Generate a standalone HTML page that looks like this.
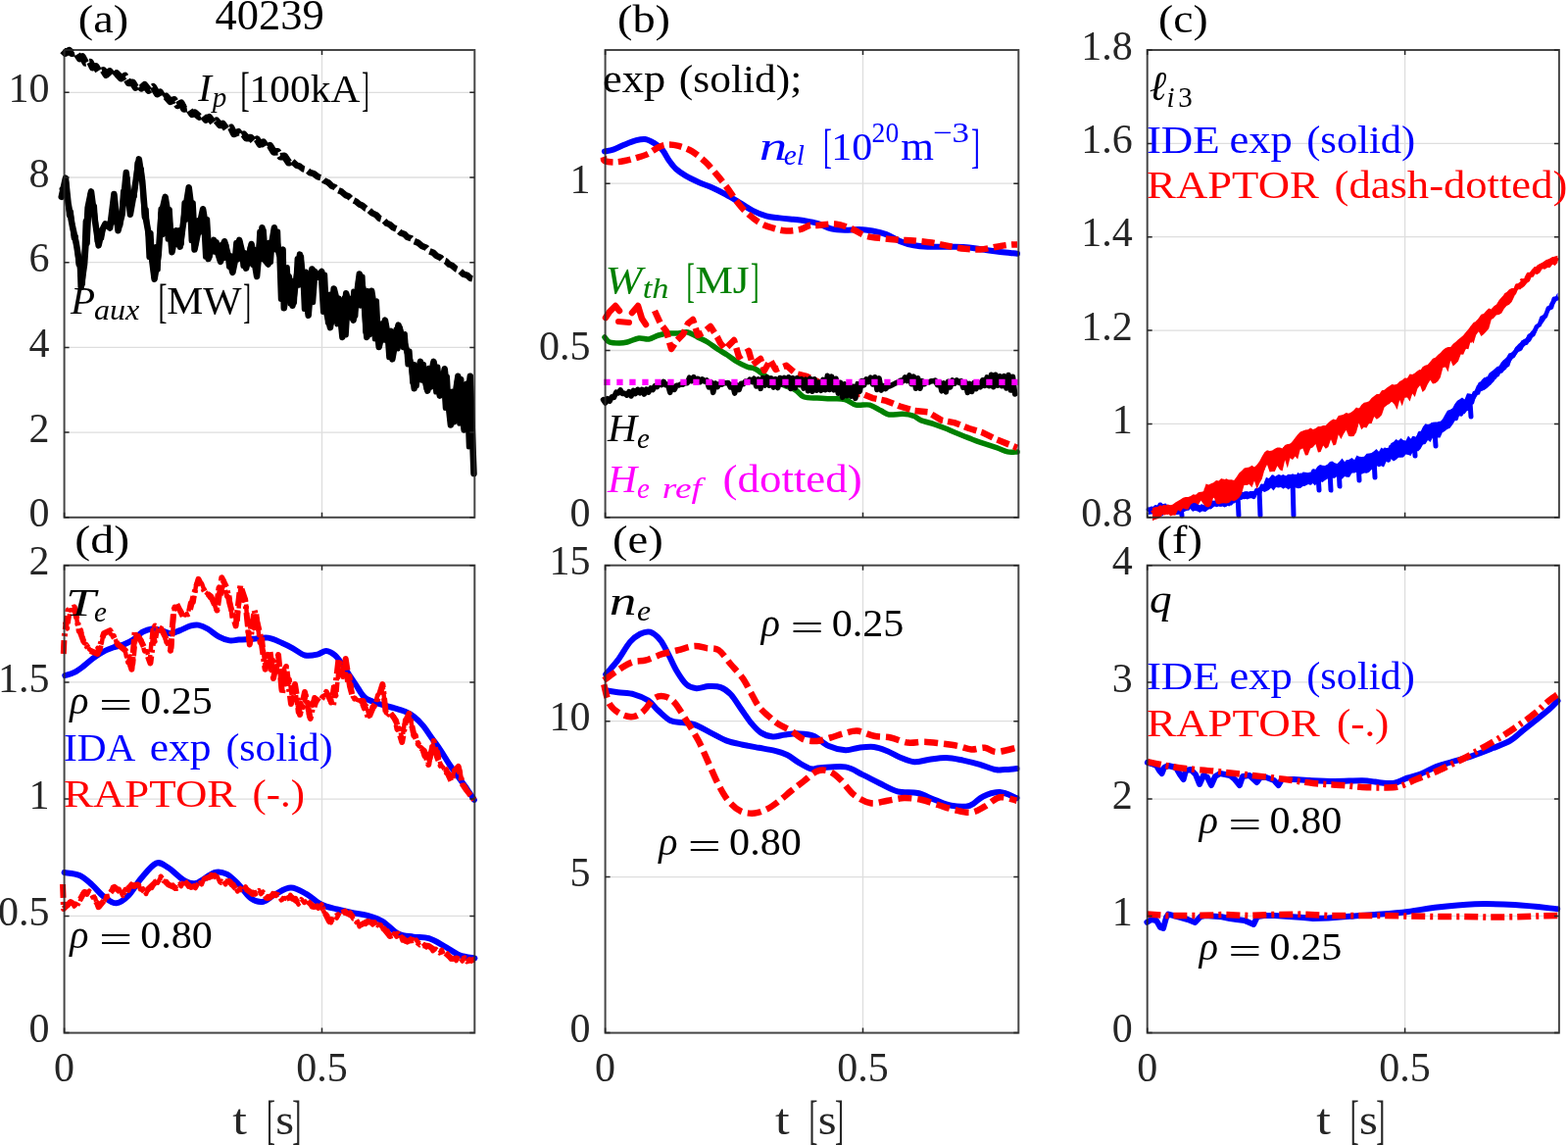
<!DOCTYPE html>
<html><head><meta charset="utf-8"><title>Figure</title>
<style>
html,body{margin:0;padding:0;background:#fff;}
body{width:1600px;height:1168px;overflow:hidden;}
svg{display:block;}
text{font-family:"Liberation Serif","DejaVu Serif",serif;}
.tk{font-size:42px;fill:#262626;}
</style></head><body>
<svg width="1600" height="1168" viewBox="0 0 1600 1168">
<rect width="1600" height="1168" fill="#fff"/>
<path d="M65.6 441.1H484.3M65.6 354.4H484.3M65.6 267.7H484.3M65.6 181H484.3M65.6 94.3H484.3M328.5 51V527.8" stroke="#dedede" stroke-width="1.3" fill="none"/>
<path d="M617.6 357.5H1039.3M617.6 187.2H1039.3M880.5 51V527.8" stroke="#dedede" stroke-width="1.3" fill="none"/>
<path d="M1170.7 432.4H1590.9M1170.7 337.1H1590.9M1170.7 241.7H1590.9M1170.7 146.4H1590.9M1433.6 51V527.8" stroke="#dedede" stroke-width="1.3" fill="none"/>
<path d="M65.6 934.4H484.3M65.6 815.1H484.3M65.6 695.9H484.3M328.5 576.7V1053.6" stroke="#dedede" stroke-width="1.3" fill="none"/>
<path d="M617.6 894.6H1039.3M617.6 735.7H1039.3M880.5 576.7V1053.6" stroke="#dedede" stroke-width="1.3" fill="none"/>
<path d="M1170.7 934.4H1590.9M1170.7 815.1H1590.9M1170.7 695.9H1590.9M1433.6 576.7V1053.6" stroke="#dedede" stroke-width="1.3" fill="none"/>
<path d="M64 51.5 66.7 54.2 70.6 51.6 73.3 54.3 77.3 53.4 81.3 59.5 84 57.9 87.4 64.1 92 63.4 94.5 68.7 97.8 67.8 100.9 72.9 105.4 71.8 108.3 76.2 111.9 73 116.1 78.1 119 75 123.5 79.7 127.5 77.5 131.3 84.6 135.4 84.3 138.3 89 141.2 86.7 144.3 89.8 147.6 86.7 151.8 92.1 156.3 88.7 160.4 95.6 163.3 94.2 166.9 100.2 169.5 98.4 173.9 103.4 177.8 101.8 181.1 107.4 184.9 105.1 187.8 111 191.9 110.3 196 116.3 198.7 115 203.2 119.1 206.1 117.2 210 122 213.5 119.7 217.6 125.2 220.8 123.1 224.6 127.5 227.3 126.4 231.2 131.7 235.7 130.2 238.7 136.4 243.2 134.7 245.7 138.7 248.8 137.1 251.3 140.7 255.6 140.4 259.3 144.4 262.2 142.1 265.2 147 268.7 145.1 272.2 151 275.5 148.6 279.5 155.1 283.4 154.8 286.1 159.8 290.2 159.2 294.7 165.8 298.3 164.7" stroke="#000000" stroke-width="7.5" fill="none" stroke-linejoin="round" stroke-linecap="butt" stroke-dasharray="15 4"/>
<path d="M298.3 164.7 302.6 168.7 305.9 169.7 309.2 172.3 312.5 173 316.1 176 320.2 177.1 324.4 180.4 328.1 181.3 331.1 184.4 335.3 186.4 338.6 189.8 341.8 191 344.7 193.9 348.6 195.6 352.7 199.1 355.7 200.2 359.1 203.6 363.5 205.6 366.4 208.2 369.8 209.8 373.3 212.8 375.7 213.6 379.8 217.4 384.1 219.4 387.4 222.9 390.4 223.7 394.6 227.8 397.7 229 401.4 232.3 404.6 233.5 409 237.7 412.6 238.8 415.7 242 419.5 243.2 422.5 246 426.6 247.6 430.6 250.9 435 252.8 438.2 256.3 442.3 257.9 445.3 260.8 449.8 263 452.3 265.6 454.9 266.4 458.5 269.8 461.2 270.8 465.4 274.4 468.8 275.7 472.7 279.6 476.9 280.9 480.1 283.9 482.7 284.5" stroke="#000000" stroke-width="6.5" fill="none" stroke-linejoin="round" stroke-linecap="butt" stroke-dasharray="15 4"/>
<path d="M62.7 200.9 66.9 181.6 69.6 207.7 73.7 229.7 77.9 249 82 273.7 82.7 293 86.1 269.6 88.2 239.4 89.6 211.9 93 195.4 96.4 221.5 100.6 250.4 104 235.2 107.4 228.4 112.2 232.5 116.4 198.1 120.5 235.2 124.6 218.7 128.8 176.1 132.9 218.7 137 195.4 141.8 162.4 145.2 184.4 148 218.7 152.1 240.7 156.2 273.7 157.6 284.7 161.7 260 164.5 218.7 168.6 200.9 172.7 225.6 175.5 257.2 179.6 235.2 183.7 251.7 187.9 221.5 192.7 191.2 197.5 229.7 198.5 254.5 203 232.5 207.1 213.2 211.2 238 212.6 264.1 218.1 244.9 225 266.9 229.1 246.2 237.4 277.9 244.2 244.9 251.1 273.7 256.6 249 262.1 282 265 250 267.5 232.3 270 265 273.7 269.5 279.9 232.3 284.9 259.6 288.6 254.6 289.8 314.2 294.8 282 298.5 311.7 306 259.6 310.9 294.4 314.7 321.7 318.4 274.5 324.6 282 328.3 277 332 314.2 337 334.1 340.7 294.4 347 319.2 349.4 344 353.2 299.3 360.6 326.6 366.8 279.5 370.5 294.4 374.3 344 379.2 296.8 384.2 329.1 386.7 354 392.9 326.6 400.3 366.4 406.5 331.6 414 354 420.2 373.8 422.7 396.2 428.9 368.9 436.3 398.7 442.5 368.9 448.8 403.6 453.7 376.3 459.9 433.4 467.4 383.8 473.6 438.4 479.8 383.8 483.5 483.1" stroke="#000000" stroke-width="6.5" fill="none" stroke-linejoin="round" stroke-linecap="round"/>
<path d="M63 192.7 65.4 194.9 67.8 185.2 70.2 219.8 72.6 215.7 75 242.8 77.4 241 79.8 269.7 82.2 264.9 84.6 289.9 87 225.5 89.4 248.7 91.8 197.9 94.2 215.8 96.6 210 99 246.5 101.4 240.6 103.8 243.2 106.2 230 108.6 229.8 111 227.5 113.4 228.7 115.8 201.7 118.2 227.5 120.6 219.5 123 230 125.4 195 127.8 201.7 130.2 181.4 132.6 214.7 135 198.5 137.4 200.6 139.8 166 142.2 176.3 144.6 172.3 147 221.7 149.4 213.6 151.8 262.6 154.2 237.3 156.6 282.3 159 251.4 161.4 275.3 163.8 213 166.2 239.8 168.6 203.8 171 244.3 173.4 213.5 175.8 252.1 178.2 237.9 180.6 249.9 183 234.3 185.4 249 187.8 206.6 190.2 224.4 192.6 193.7 195 245.8 197.4 206.7 199.8 250.6 202.2 224.4 204.6 237.2 207 216.9 209.4 262.3 211.8 223.5 214.2 262.4 216.6 247.3 219 257.4 221.4 246.7 223.8 264.8 226.2 248.8 228.6 263.8 231 249.4 233.4 272.6 235.8 260.5 238.2 274.6 240.6 247.4 243 265 245.4 247.2 247.8 271.6 250.2 257.5 252.6 270.1 255 252.4 257.4 270.5 259.8 254.1 262.2 280.3 264.6 236.2 267 264.9 269.4 234.7 271.8 266 274.2 247.1 276.6 267.7 279 235.4 281.4 255.3 283.8 235.9 286.2 305.5 288.6 260.6 291 306.2 293.4 272.5 295.8 310.1 298.2 286.1 300.6 309 303 263.7 305.4 291.4 307.8 261.6 310.2 315.6 312.6 277 315 314.9 317.4 276.2 319.8 308.8 322.2 276.7 324.6 283.5 327 279.5 329.4 318.6 331.8 280 334.2 329.5 336.6 300 339 329.5 341.4 296.1 343.8 331.1 346.2 303.9 348.6 339.7 351 303.7 353.4 342 355.8 303.7 358.2 324.6 360.6 296.8 363 322.6 365.4 285.6 367.8 312.3 370.2 281.9 372.6 339 375 296.1 377.4 341.8 379.8 299.4 382.2 346.2 384.6 306.6 387 352.5 389.4 329.6 391.8 347.3 394.2 331 396.6 364.8 399 336.8 401.4 362.2 403.8 335.8 406.2 356.2 408.6 334.1 411 354.8 413.4 340.3 415.8 372 418.2 357.8 420.6 390.7 423 371.4 425.4 393.9 427.8 372.6 430.2 388.4 432.6 371.3 435 397 437.4 375.1 439.8 395.4 442.2 371.3 444.6 400.2 447 373.9 449.4 399.9 451.8 380.2 454.2 416.5 456.6 384 459 428.3 461.4 398.8 463.8 431 466.2 388.2 468.6 432.3 471 386.5 473.4 433.4 475.8 390.8 478.2 456.1 480.6 391.6 483 476" stroke="#000000" stroke-width="4.8" fill="none" stroke-linejoin="round" stroke-linecap="round"/>
<path d="M616.9 154.4C618.5 154.1 623.1 153.5 626.5 152.3C629.9 151.2 633.8 149 637.5 147.5C641.2 146 645.1 144.3 648.5 143.4C651.9 142.5 654.9 141.6 658.1 142C661.3 142.4 664.7 144.3 667.7 146.1C670.7 147.9 673.5 150 676 153C678.5 156 680.6 160.8 682.9 164C685.2 167.2 687 169.7 689.7 172.2C692.5 174.7 695.5 176.8 699.4 179.1C703.3 181.4 708.5 183.9 713.1 186C717.7 188.1 722.3 189.4 726.9 191.5C731.5 193.6 736 195.9 740.6 198.4C745.2 200.9 749.8 203.8 754.4 206.6C759 209.3 763.5 212.6 768.1 214.9C772.7 217.2 777.3 219.2 781.9 220.4C786.5 221.7 791 221.8 795.6 222.4C800.2 223 805.3 223.4 809.4 223.8C813.5 224.2 815.9 224.3 820 225C824.1 225.7 829.3 226.4 834 227.8C838.7 229.2 843.4 232.2 848.1 233.4C852.8 234.6 857.5 234.7 862.2 234.8C866.9 234.9 871.5 234 876.2 234.1C880.9 234.2 885.6 234.7 890.3 235.5C895 236.3 899.7 237.3 904.4 239.1C909.1 240.9 913.7 244.2 918.4 246.1C923.1 248 927.8 249.4 932.5 250.3C937.2 251.2 941.9 251.5 946.6 251.7C951.3 251.9 955.9 251.7 960.6 251.7C965.3 251.7 970 251.6 974.7 251.7C979.4 251.8 984.1 251.9 988.8 252.4C993.5 252.9 998.1 253.8 1002.8 254.5C1007.5 255.2 1012.2 256 1016.9 256.6C1021.6 257.2 1027.4 257.6 1030.9 258C1034.4 258.4 1036.8 258.7 1038 258.8" stroke="#0000ff" stroke-width="6" fill="none" stroke-linejoin="round" stroke-linecap="round"/>
<path d="M616 160C616.2 160.7 615.2 163.1 617 164C618.8 164.9 623.1 165.4 626.5 165.4C629.9 165.4 633.8 164.7 637.5 164C641.2 163.3 644.6 162.3 648.5 161.2C652.4 160 657 158.9 660.9 157.1C664.8 155.3 668.5 151.8 671.9 150.2C675.3 148.6 678.1 147.7 681.5 147.5C684.9 147.3 688.4 147.8 692.5 148.9C696.6 150.1 701.6 151.7 706.2 154.4C710.8 157.2 715.9 161.5 720 165.4C724.1 169.3 727.3 173.3 731 177.7C734.7 182 738.6 186.9 742 191.5C745.4 196.1 748.4 201.1 751.6 205.2C754.8 209.3 757.3 212.5 761.2 216.2C765.1 219.9 770.4 224.4 775 227.2C779.6 229.9 784.1 231.3 788.7 232.7C793.3 234.1 797.9 235.3 802.5 235.5C807.1 235.7 812.3 235 816.2 234.1C820.1 233.2 823 230.7 826 230C829 229.3 829.6 230.2 834 230C838.4 229.8 846.4 227.9 852.3 228.5C858.2 229.1 864 231.4 869.2 233.4C874.4 235.4 877.9 238.8 883.3 240.5C888.7 242.2 895.8 242.6 901.6 243.3C907.5 244 913.2 244.3 918.4 244.7C923.5 245 927.1 244.9 932.5 245.4C937.9 245.9 944.9 246.6 950.8 247.5C956.7 248.4 962.1 249.9 967.7 251C973.3 252.1 979.1 253.2 984.5 253.8C989.9 254.4 994.6 254.8 1000 254.5C1005.4 254.2 1011.8 252.5 1016.9 251.7C1022 250.9 1027.4 249.9 1030.9 249.6C1034.4 249.2 1036.8 249.6 1038 249.6" stroke="#ff0000" stroke-width="6.5" fill="none" stroke-linejoin="round" stroke-linecap="butt" stroke-dasharray="13 5.5"/>
<path d="M617 344C617.8 344.8 619.5 348 622 349C624.5 350 629 350 632 350C635 350 636.7 349.8 640 349C643.3 348.2 648.3 345.5 652 345C655.7 344.5 658.7 346.5 662 346C665.3 345.5 668.7 343 672 342C675.3 341 678.7 340.3 682 340C685.3 339.7 688.7 340.2 692 340C695.3 339.8 698.7 338.3 702 339C705.3 339.7 708.7 342.3 712 344C715.3 345.7 718.7 347 722 349C725.3 351 728.7 353.8 732 356C735.3 358.2 738.7 359.8 742 362C745.3 364.2 748.7 367 752 369C755.3 371 759 372.8 762 374C765 375.2 767.2 374.7 770 376C772.8 377.3 776.3 380.2 779 382C781.7 383.8 782.5 384.8 786 386.6C789.5 388.4 795.7 391.1 800 393C804.3 394.9 808.7 396.1 812 398C815.3 399.9 816.3 403.3 820 404.7C823.7 406.1 829.3 405.8 834 406.1C838.7 406.5 843.4 406.6 848.1 406.8C852.8 407 858 406.4 862.2 407.5C866.4 408.6 869.2 412.2 873.4 413.1C877.6 414 883.3 412.2 887.5 413.1C891.7 414.1 895.5 417.2 898.8 418.8C902.1 420.4 903.5 422.4 907.2 423C911 423.6 917.1 422.1 921.3 422.3C925.5 422.5 929.5 423.3 932.5 424.4C935.5 425.4 936 427.2 939.5 428.6C943 430 949.4 431.4 953.6 432.8C957.8 434.2 961.3 435.6 964.8 437C968.3 438.4 970.7 439.7 974.7 441.3C978.7 442.9 984.6 445.3 988.8 446.9C993 448.5 995.3 449.5 1000 451.1C1004.7 452.7 1012.2 455.1 1016.9 456.7C1021.6 458.3 1024.6 460.2 1028.1 460.9C1031.6 461.6 1036.3 460.9 1038 460.9" stroke="#008000" stroke-width="5.5" fill="none" stroke-linejoin="round" stroke-linecap="round"/>
<path d="M618 324 622 318 628 312 632 317" stroke="#ff0000" stroke-width="6.5" fill="none" stroke-linejoin="round" stroke-linecap="round"/>
<path d="M631 328 642 329" stroke="#ff0000" stroke-width="6" fill="none" stroke-linejoin="round" stroke-linecap="round"/>
<path d="M645 319 651 312 655 325 659 331" stroke="#ff0000" stroke-width="6.5" fill="none" stroke-linejoin="round" stroke-linecap="round"/>
<path d="M668 317 674 330 680 338 685 356 691 347 697 341 702 330 707 326 712 342 718 339 725 333 732 344 735 350 740 356 749 347 754 364 764 358 768 372 776 366 780 378 786 367.4 791.5 377 802.5 372.9 812.1 381.1 823.1 383.9 840 392 856 398 873.4 401.9 880.5 401.9 890.3 406.1 904.4 408.9 918.4 414.5 932.5 418.8 946.6 420.2 960.6 428.6 974.7 431.4 988.8 437 1002.8 441.3 1016.9 448.3 1030.9 453.9 1038 456.7" stroke="#ff0000" stroke-width="6.5" fill="none" stroke-linejoin="round" stroke-linecap="butt" stroke-dasharray="13 5"/>
<path d="M615.5 407.7 617.7 411 619.9 406.6 622.1 409.1 624.3 404.9 626.5 405.4 628.7 400.2 630.9 401 633.1 397.8 635.3 401.6 637.5 401.2 639.7 403.2 641.9 399.7 644.1 404 646.3 398.4 648.5 401.6 650.7 397.3 652.9 400.8 655.1 397.4 657.3 402.1 659.5 397 661.7 400.2 663.9 395.9 666.1 397.6 668.3 393.6 670.5 394.6 672.7 390.7 674.9 392.6 677.1 389.3 679.3 392.7 681.5 392 683.7 400.4 685.9 393.9 688.1 397.4 690.3 393.2 692.5 393.1 694.7 392 696.9 392.2 699.1 390.4 701.3 390.8 703.5 385.2 705.7 388.7 707.9 384.7 710.1 390 712.3 386.3 714.5 389.6 716.7 386.8 718.9 389 721.1 387.8 723.3 394.9 725.5 389.8 727.7 400.4 729.9 391 732.1 394.7 734.3 391.5 736.5 392.2 738.7 390.7 740.9 390.7 743.1 390.5 745.3 395 747.5 392.3 749.7 401.1 751.9 392.8 754.1 397.6 756.3 391.2 758.5 391.8 760.7 389 762.9 390.2 765.1 387.1 767.3 389.5 769.5 386.2 771.7 394 773.9 386.8 776.1 396.4 778.3 385.5 780.5 393.1 782.7 384.8 784.9 393.3 787.1 385.8 789.3 395.1 791.5 386.6 793.7 395.6 795.9 385.5 798.1 392.1 800.3 385.4 802.5 393.2 804.7 384.7 806.9 396.5 809.1 385.6 811.3 395.8 813.5 385.6 815.7 392.8 817.9 386.6 820.1 396.1 822.3 387.1 824.5 398.8 826.7 386.1 828.9 399.3 831.1 386.8 833.3 398.3 835.5 390 837.7 398.4 839.9 387.4 842.1 397.8 844.3 383.3 846.5 397.6 848.7 384.1 850.9 397.9 853.1 386.3 855.3 401.3 857.5 390.2 859.7 405.4 861.9 391.8 864.1 403.8 866.3 391.8 868.5 404.3 870.7 394.2 872.9 406.4 875.1 391.6 877.3 399.3 879.5 388.5 881.7 392.9 883.9 386.8 886.1 389.5 888.3 385.2 890.5 391.9 892.7 384.7 894.9 397.5 897.1 385.9 899.3 398.1 901.5 393.5 903.7 396.6 905.9 394.4 908.1 393.8 910.3 392.7 912.5 391.6 914.7 390.5 916.9 389.5 919.1 388.1 921.3 388.9 923.5 384.9 925.7 388.5 927.9 382.9 930.1 391.8 932.3 384.1 934.5 396.3 936.7 385.8 938.9 396.3 941.1 388.6 943.3 391.7 945.5 390.1 947.7 390.1 949.9 388.8 952.1 388.8 954.3 388 956.5 392.7 958.7 389.8 960.9 398.9 963.1 390.8 965.3 399.9 967.5 389.2 969.7 395 971.9 387.8 974.1 391.1 976.3 387.8 978.5 390.3 980.7 388.6 982.9 395.3 985.1 389.9 987.3 400.5 989.5 391.4 991.7 399.5 993.9 390.6 996.1 396.6 998.3 390.3 1000.5 394.8 1002.7 387.7 1004.9 393.5 1007.1 384.9 1009.3 393.8 1011.5 382.2 1013.7 394.7 1015.9 382.2 1018.1 393.2 1020.3 383.8 1022.5 393.8 1024.7 383.6 1026.9 396 1029.1 382.5 1031.3 398.1 1033.5 384.3 1035.7 402.1" stroke="#000000" stroke-width="5.5" fill="none" stroke-linejoin="round" stroke-linecap="round"/>
<path d="M616.3 389.8 1039 389.8" stroke="#ff00ff" stroke-width="6.3" fill="none" stroke-linejoin="round" stroke-linecap="butt" stroke-dasharray="6.3 6.7"/>
<path d="M1172 518 1174.5 516.5 1177 516.8 1179.5 516.2 1182 514.3 1184.5 514 1187 514 1189.5 513.6 1192 515.9 1194.5 516.3 1197 515.6 1199.5 516.2 1202 516.6 1204.5 517 1207 515.6 1209.5 514.5 1212 513.9 1214.5 513.1 1217 512.3 1219.5 512.6 1222 514 1224.5 515.5 1227 515.4 1229.5 515.3 1232 514 1234.5 512.2 1237 511.9 1239.5 510.6 1242 510.1 1244.5 510.4 1247 508.6 1249.5 509.1 1252 510.4 1254.5 508.2 1257 507 1259.5 505.9 1262 503.4 1264.5 503.2 1267 501.7 1269.5 502.1 1272 501.1 1274.5 501.8 1277 500.9 1279.5 500.9 1282 498.9 1284.5 497.2 1287 495.3 1289.5 493.4 1292 486.8 1294.5 488.1 1297 486.1 1299.5 486.7 1302 485.4 1304.5 484.1 1307 484.9 1309.5 483.9 1312 485.6 1314.5 483.8 1317 483.9 1319.5 483.2 1322 485.5 1324.5 481.8 1327 484.2 1329.5 481.5 1332 481.7 1334.5 482.3 1337 481.6 1339.5 481.4 1342 479.2 1344.5 475.8 1347 474.1 1349.5 474.8 1352 474.9 1354.5 473.7 1357 470.9 1359.5 470.4 1362 472.3 1364.5 472.9 1367 470.6 1369.5 467.4 1372 471.1 1374.5 470.1 1377 468.6 1379.5 467 1382 469.2 1384.5 464.4 1387 465.8 1389.5 465.9 1392 465.8 1394.5 462.7 1397 462.5 1399.5 462 1402 460.2 1404.5 457.9 1407 460.8 1409.5 456.5 1412 458.2 1414.5 456.9 1417 456.7 1419.5 452 1422 450.7 1424.5 447.9 1427 449.4 1429.5 446.9 1432 449.1 1434.5 449.4 1437 444.5 1439.5 447.6 1442 445.9 1444.5 445.8 1447 442.1 1449.5 440.4 1452 435.2 1454.5 432.3 1457 433.1 1459.5 432.2 1462 430.8 1464.5 430.6 1467 430.5 1469.5 430.2 1472 427.6 1474.5 422.9 1477 418.7 1479.5 417.9 1482 416.7 1484.5 412.1 1487 408.7 1489.5 407.2 1492 405.4 1494.5 407.4 1497 401.2 1499.5 401.5 1502 402.1 1504.5 399.1 1507 393 1509.5 391.2 1512 387.6 1514.5 384.9 1517 385.4 1519.5 380.7 1522 378.9 1524.5 376.8 1527 374.7 1529.5 373.6 1532 369.6 1534.5 366.9 1537 364.7 1539.5 360.6 1542 359.7 1544.5 357.4 1547 353.6 1549.5 350.7 1552 348.8 1554.5 346.3 1557 345.1 1559.5 341.8 1562 338.5 1564.5 335.8 1567 331.8 1569.5 329.2 1572 325.3 1574.5 321.2 1577 317.7 1579.5 313.6 1582 308.3 1584.5 306.4 1587 302.7 1589.5 298.5 1589.5 304.9 1587 309.2 1584.5 312.4 1582 316.2 1579.5 320.3 1577 325.7 1574.5 329.6 1572 331.9 1569.5 335.3 1567 340.3 1564.5 343.2 1562 348 1559.5 350.1 1557 351.9 1554.5 354.2 1552 357.9 1549.5 359.1 1547 362.2 1544.5 365.1 1542 368.2 1539.5 372.3 1537 376.4 1534.5 378.6 1532 379.4 1529.5 384 1527 385.1 1524.5 388.9 1522 391.4 1519.5 393.9 1517 396.3 1514.5 397.8 1512 398.9 1509.5 399.8 1507 404.2 1504.5 408.3 1502 412.3 1499.5 419 1497 419.1 1494.5 422.3 1492 422.5 1489.5 424.3 1487 425.6 1484.5 429.6 1482 433.6 1479.5 436.7 1477 437.7 1474.5 439.4 1472 441.1 1469.5 446.6 1467 446.4 1464.5 446.9 1462 446.5 1459.5 451.1 1457 448.9 1454.5 453.1 1452 453.6 1449.5 457.9 1447 460.5 1444.5 459.3 1442 460.2 1439.5 464.9 1437 463.9 1434.5 463.6 1432 466.4 1429.5 466.7 1427 466.7 1424.5 469 1422 470.6 1419.5 468.2 1417 469.2 1414.5 470.9 1412 476.5 1409.5 475.3 1407 476.2 1404.5 475 1402 479.5 1399.5 479.1 1397 481.8 1394.5 482.7 1392 482.6 1389.5 483.7 1387 482.1 1384.5 481.5 1382 482.5 1379.5 482.4 1377 486.8 1374.5 486.8 1372 486 1369.5 488.8 1367 486.7 1364.5 485.8 1362 487.8 1359.5 487.7 1357 487.8 1354.5 488.6 1352 490.1 1349.5 492.1 1347 490.9 1344.5 490.9 1342 495.4 1339.5 493 1337 493.7 1334.5 494.3 1332 495.4 1329.5 495.9 1327 497.9 1324.5 498.3 1322 497.6 1319.5 497 1317 497.8 1314.5 499.6 1312 496.9 1309.5 498.7 1307 497 1304.5 497.5 1302 497 1299.5 500.6 1297 497.8 1294.5 499.9 1292 501.2 1289.5 499.8 1287 501 1284.5 503.9 1282 505.1 1279.5 508 1277 508.3 1274.5 508.4 1272 508.7 1269.5 509.3 1267 508.9 1264.5 510.3 1262 511.8 1259.5 513.5 1257 513.6 1254.5 516.5 1252 515.8 1249.5 517.4 1247 516.3 1244.5 516.8 1242 516.2 1239.5 516.5 1237 518.2 1234.5 519.1 1232 520.4 1229.5 521.7 1227 521.6 1224.5 522.1 1222 521.6 1219.5 520.9 1217 520.6 1214.5 518.9 1212 520.5 1209.5 521.5 1207 523.1 1204.5 524.2 1202 525.1 1199.5 524.3 1197 523.8 1194.5 523.3 1192 521.4 1189.5 521.4 1187 520.4 1184.5 520.5 1182 521 1179.5 521.9 1177 522.6 1174.5 524.5 1172 524.9Z" fill="#0000ff" stroke="none"/>
<path d="M1172 519.7 1175.4 522.2 1179.2 517.5 1181.7 520.6 1185 515.9 1188.3 519.1 1191.8 517.1 1194.3 521.5 1197.1 518.2 1200.6 522.7 1203 518.6 1206.3 520.7 1209.6 516.8 1212.3 518.3 1214.7 513.4 1217.6 519.3 1220.5 515.2 1224.1 520.3 1226.4 516.6 1229.7 519.5 1231.9 514.6 1235 517 1237.9 512.8 1241.4 514.9 1243.7 510.6 1246 514.5 1248.1 510.7 1250.4 514.9 1252.7 511.1 1256 513.3 1258.9 507.7 1261.8 509.8 1264.1 504.5 1266.6 507.5 1270.4 503.7 1272.8 507 1275.9 503.5 1279.3 506.9 1282.1 500.3 1285.3 502.1 1287.8 495.8 1290.3 499.6 1293.2 490.6 1296 495 1298.7 486.6 1301.8 494 1305.6 486.7 1308.2 492.5 1310.5 487.6 1313 495.6 1315.6 487.9 1318.8 496 1321.4 486 1324.2 494.4 1327.4 484.9 1330.8 493.3 1334.4 484.9 1337.2 492.5 1340.3 480.5 1343 491.6 1346.2 480.6 1350 487.6 1352.7 478.7 1355 485.2 1358.3 477.6 1360.9 484.6 1364 475.2 1367.5 482 1370.2 473.4 1372.6 480.7 1374.9 471.2 1377.3 481.5 1379.8 470.5 1383.1 479.1 1386.9 469 1390 476.4 1392.8 469 1395.7 477.9 1399.4 467.4 1402.7 475.4 1405.8 464.9 1409.4 471 1413.3 458.9 1416.9 469.4 1419.1 456.1 1421.8 463.6 1424.6 453.9 1426.7 462.1 1430.2 452.3 1433.2 460.1 1437.1 451.9 1440.4 460 1442.5 447.1 1445 458.1 1448.8 442 1452.4 449.3 1455.3 438.6 1459.1 443.5 1461.5 433.3 1465 443.7 1468.9 432 1472.5 438.4 1476.2 427.1 1479.1 431.9 1482.6 418.9 1485.9 426.8 1488.8 414.7 1490.9 422.5 1493.9 410 1496.9 415 1499.4 406.4 1502 410.6 1504.5 401.1 1508.2 400.6 1510.4 391.7 1513.7 395.6 1517.2 386.7 1519.7 390.9 1522.9 381.1 1525.3 384.7 1528.7 376.1 1531.9 378.4 1535.3 369.4 1538.3 372.3 1541 364 1544.2 363.1 1547.9 355.8 1551.6 355.6 1554 349 1557.3 349.8 1560.5 342.6 1564.4 341.3 1567.9 333.2 1570.9 331.3 1573.3 324.2 1577 322.6 1579.8 314.5 1583 313.5 1585.7 304.8 1588.8 304.6" stroke="#0000ff" stroke-width="4.5" fill="none" stroke-linejoin="round" stroke-linecap="round"/>
<path d="M1184 515 1185 524" stroke="#0000ff" stroke-width="5" fill="none" stroke-linejoin="round" stroke-linecap="round"/>
<path d="M1205 518 1206 526" stroke="#0000ff" stroke-width="5" fill="none" stroke-linejoin="round" stroke-linecap="round"/>
<path d="M1263 505 1264 526" stroke="#0000ff" stroke-width="5" fill="none" stroke-linejoin="round" stroke-linecap="round"/>
<path d="M1285 500 1286 526" stroke="#0000ff" stroke-width="5" fill="none" stroke-linejoin="round" stroke-linecap="round"/>
<path d="M1319 489 1320 526" stroke="#0000ff" stroke-width="5" fill="none" stroke-linejoin="round" stroke-linecap="round"/>
<path d="M1345 484 1346 500" stroke="#0000ff" stroke-width="5" fill="none" stroke-linejoin="round" stroke-linecap="round"/>
<path d="M1357 480 1358 500" stroke="#0000ff" stroke-width="5" fill="none" stroke-linejoin="round" stroke-linecap="round"/>
<path d="M1366 476 1367 496" stroke="#0000ff" stroke-width="5" fill="none" stroke-linejoin="round" stroke-linecap="round"/>
<path d="M1386 472 1387 490" stroke="#0000ff" stroke-width="5" fill="none" stroke-linejoin="round" stroke-linecap="round"/>
<path d="M1402 468 1403 487" stroke="#0000ff" stroke-width="5" fill="none" stroke-linejoin="round" stroke-linecap="round"/>
<path d="M1443 452 1444 465" stroke="#0000ff" stroke-width="5" fill="none" stroke-linejoin="round" stroke-linecap="round"/>
<path d="M1464 440 1465 455" stroke="#0000ff" stroke-width="5" fill="none" stroke-linejoin="round" stroke-linecap="round"/>
<path d="M1500 410 1501 425" stroke="#0000ff" stroke-width="5" fill="none" stroke-linejoin="round" stroke-linecap="round"/>
<path d="M1176 518 1178.6 517.2 1181.2 516.9 1183.8 515.2 1186.4 516.2 1189 516 1191.6 514.6 1194.2 515.4 1196.8 514.4 1199.4 512.6 1202 511.1 1204.6 509.6 1207.2 507.7 1209.8 507.1 1212.4 507 1215 506 1217.6 504.2 1220.2 504.7 1222.8 502.3 1225.4 501.7 1228 501.5 1230.6 493.5 1233.2 494.4 1235.8 493.2 1238.4 492.3 1241 490 1243.6 490.6 1246.2 487.9 1248.8 489.6 1251.4 488.2 1254 489.6 1256.6 489.2 1259.2 490 1261.8 486.4 1264.4 482.6 1267 480.2 1269.6 477.4 1272.2 477.1 1274.8 476.4 1277.4 474.8 1280 476.4 1282.6 474 1285.2 470.4 1287.8 465.4 1290.4 461.3 1293 459.3 1295.6 459.9 1298.2 459.6 1300.8 457.7 1303.4 456.5 1306 456.4 1308.6 457.4 1311.2 454 1313.8 453 1316.4 452.8 1319 450 1321.6 446.6 1324.2 443.2 1326.8 440.5 1329.4 439.4 1332 438.6 1334.6 438.2 1337.2 436.4 1339.8 438.1 1342.4 437 1345 435 1347.6 435.1 1350.2 434.1 1352.8 434.1 1355.4 431.3 1358 428.9 1360.6 427.4 1363.2 428.2 1365.8 424.1 1368.4 423.6 1371 422.8 1373.6 421 1376.2 421.8 1378.8 420.6 1381.4 418.5 1384 415.5 1386.6 417.1 1389.2 412.9 1391.8 410.8 1394.4 410.2 1397 409.2 1399.6 406 1402.2 404 1404.8 402 1407.4 401.9 1410 398.2 1412.6 397.7 1415.2 395.6 1417.8 393.8 1420.4 392.1 1423 392.6 1425.6 391.8 1428.2 388.9 1430.8 387.7 1433.4 385.4 1436 385.8 1438.6 381.5 1441.2 382.1 1443.8 380.4 1446.4 378.2 1449 378.5 1451.6 374.3 1454.2 372.8 1456.8 372 1459.4 369 1462 365.7 1464.6 364.8 1467.2 362.1 1469.8 360 1472.4 356.9 1475 355 1477.6 354 1480.2 354.1 1482.8 350.8 1485.4 348.8 1488 346.3 1490.6 344.3 1493.2 342 1495.8 338.7 1498.4 335.7 1501 332.3 1503.6 328.9 1506.2 327.7 1508.8 324.4 1511.4 320.8 1514 319.9 1516.6 317 1519.2 314.4 1521.8 315.4 1524.4 312.2 1527 310.5 1529.6 306.2 1532.2 303.3 1534.8 300.5 1537.4 298 1540 295.2 1542.6 294 1545.2 293.9 1547.8 290.1 1550.4 288 1553 285.2 1555.6 283.4 1558.2 280.3 1560.8 278.1 1563.4 274.5 1566 273.4 1568.6 270.6 1571.2 269.1 1573.8 267.8 1576.4 265.9 1579 264.7 1581.6 263.6 1584.2 262.3 1586.8 261.6 1589.4 260.8 1589.4 267.9 1586.8 270.9 1584.2 269.8 1581.6 273.1 1579 273.1 1576.4 274.8 1573.8 274.3 1571.2 278.2 1568.6 279.9 1566 279.3 1563.4 280.9 1560.8 287.1 1558.2 288.8 1555.6 291.9 1553 293.9 1550.4 294.5 1547.8 296.5 1545.2 302.5 1542.6 308 1540 310.8 1537.4 312.1 1534.8 315.1 1532.2 319.5 1529.6 321.1 1527 321.2 1524.4 324.3 1521.8 326.1 1519.2 335.2 1516.6 338.2 1514 340.9 1511.4 343.1 1508.8 337.9 1506.2 341.7 1503.6 350.5 1501 346.7 1498.4 356.3 1495.8 355.8 1493.2 361.8 1490.6 361.5 1488 368.6 1485.4 371.2 1482.8 373.5 1480.2 367.7 1477.6 379.6 1475 374.5 1472.4 374.9 1469.8 385 1467.2 388.9 1464.6 390.9 1462 391.5 1459.4 387.8 1456.8 391.9 1454.2 397.8 1451.6 400 1449 392.9 1446.4 396.5 1443.8 404.9 1441.2 401.4 1438.6 409.4 1436 405.4 1433.4 405.8 1430.8 414.2 1428.2 407.9 1425.6 417.9 1423 412.7 1420.4 410 1417.8 411 1415.2 413.6 1412.6 415.4 1410 423.3 1407.4 425.9 1404.8 427.8 1402.2 425 1399.6 432.1 1397 431.9 1394.4 436.4 1391.8 435.8 1389.2 438.2 1386.6 431.4 1384 440.9 1381.4 444.9 1378.8 445.2 1376.2 445.1 1373.6 438.8 1371 442.7 1368.4 447.9 1365.8 443.2 1363.2 453.4 1360.6 454.5 1358 448.3 1355.4 456 1352.8 457.7 1350.2 454.4 1347.6 460.9 1345 461.4 1342.4 452.9 1339.8 456.3 1337.2 457.5 1334.6 464.3 1332 464.5 1329.4 457.6 1326.8 458.3 1324.2 468.6 1321.6 465.6 1319 468.9 1316.4 467.2 1313.8 477.6 1311.2 469.3 1308.6 480.6 1306 479.3 1303.4 475.3 1300.8 480.9 1298.2 481.1 1295.6 481.6 1293 474.1 1290.4 478.9 1287.8 488.6 1285.2 493.1 1282.6 499.1 1280 490.6 1277.4 497.3 1274.8 494.1 1272.2 495 1269.6 494.5 1267 503.7 1264.4 507.7 1261.8 509.9 1259.2 511.2 1256.6 510.6 1254 512.9 1251.4 513.6 1248.8 513.2 1246.2 513.5 1243.6 514.6 1241 513.6 1238.4 506.5 1235.8 515.4 1233.2 517.5 1230.6 516.9 1228 514.2 1225.4 510.5 1222.8 515 1220.2 513.2 1217.6 512.9 1215 514.7 1212.4 519.7 1209.8 519.6 1207.2 518.5 1204.6 522.1 1202 520.3 1199.4 525.7 1196.8 525.6 1194.2 526.4 1191.6 523.1 1189 525.4 1186.4 525 1183.8 528 1181.2 529.2 1178.6 529.9 1176 531.2Z" fill="#ff0000" stroke="none"/>
<path d="M1176 520.2 1179.3 525 1181.6 519.6 1184.4 522.8 1188 517.1 1191.2 522.7 1194.4 517.6 1197.3 520.4 1201.1 514.9 1204.6 516.5 1208 510.8 1210.8 515.6 1212.9 509.8 1216.7 513 1219 505.8 1222.8 510 1225.6 505 1228.3 508.6 1230.7 497.6 1232.9 506.1 1236.4 496.6 1239.3 505.7 1242.2 494.8 1244.4 504.6 1248.2 490.8 1251.5 502.2 1254.3 492 1257.6 501.2 1260.1 493.2 1263.1 500.9 1266.1 488.5 1269.7 492.6 1272.8 481 1275.6 489.1 1279.1 480.9 1282.2 487.6 1285.6 476.3 1288.2 479 1291.4 465.8 1294.3 471.4 1296.9 462.6 1300.8 472.1 1304.6 463.3 1308.4 469.6 1310.8 458 1314.5 465.2 1317.1 454.9 1319.8 462.4 1321.9 453.2 1325.2 459.9 1329.1 444.6 1331.2 453.7 1334.7 441.6 1338 452.1 1341 441.9 1344.2 450.4 1348.1 437.6 1350.4 448.4 1354.1 438.3 1357.9 445.8 1361.3 431.9 1363.8 441.1 1366.3 428.9 1369.7 437 1373.4 426.7 1375.9 435.8 1379.8 423.4 1383 435.1 1386.8 418.6 1389.7 429.1 1393.4 414 1396.5 423.2 1399.3 410.1 1402.4 417.5 1405.8 404.7 1409.3 416.6 1413.1 401.3 1416.6 410.1 1418.9 399.6 1421.5 410.5 1424.9 396 1428.1 403.6 1431.1 391.6 1433.9 400.3 1436.8 389.7 1440.1 395.8 1442.4 386.2 1445.7 395.3 1449 379.4 1451.8 388.4 1454.8 378.3 1457.2 387.8 1459.9 375 1462.6 384.1 1464.7 370 1467.3 376.4 1470.2 365.7 1473.9 372.3 1477.3 360.6 1480.2 367.6 1483.8 356.2 1486.8 362.7 1490.4 349.3 1493.4 355.2 1496.2 341.2 1499.5 349.3 1502.6 334 1505.4 341.9 1508 328.7 1510.8 334.4 1513.1 324.9 1516.2 329.3 1518.4 317.9 1521 326.2 1524.2 316 1527.9 318.8 1530.5 309.6 1533.8 312 1537 300.7 1539.8 305.1 1542.4 296.3 1545.2 298.5 1548 291.5 1550.4 293 1553 286.3 1556 287.2 1559.6 279.9 1563.2 280.6 1566.6 274.3 1569 276.8 1572.6 270.2 1576.3 270.2 1578.9 267 1581.3 268.6 1584.7 264.5 1587.1 266.6 1589.8 261.7" stroke="#ff0000" stroke-width="4.5" fill="none" stroke-linejoin="round" stroke-linecap="butt" stroke-dasharray="16 4 3 4"/>
<path d="M66.3 689C67.9 688.5 72.6 687.5 75.8 685.9C79 684.3 82.1 681.9 85.3 679.5C88.5 677.1 91.6 674 94.8 671.6C98 669.2 100.9 667.1 104.3 665.3C107.7 663.4 111.7 661.8 115.4 660.5C119.1 659.2 123.1 658.7 126.5 657.4C129.9 656.1 132.8 654.7 136 652.6C139.2 650.5 142.3 646.6 145.5 644.7C148.7 642.9 151.8 641.8 155 641.5C158.2 641.2 161.3 642.3 164.5 643.1C167.7 643.9 170.8 646.3 174 646.3C177.2 646.3 180.1 644.4 183.5 643.1C186.9 641.8 191.4 639.3 194.6 638.4C197.8 637.5 199.6 637.1 202.5 637.6C205.4 638.1 208.6 639.5 212 641.5C215.4 643.5 219.4 647.4 223.1 649.4C226.8 651.4 230.8 652.9 234.2 653.4C237.6 653.9 239.7 652.9 243.7 652.6C247.7 652.3 253 652.1 258 651.8C263 651.5 268.6 649.9 273.6 650.6C278.6 651.3 283.8 654.2 288 656C292.2 657.8 294.9 659.2 298.8 661.3C302.7 663.4 307.1 667.5 311.3 668.5C315.5 669.5 320.3 668.4 323.9 667.6C327.5 666.9 329.9 663.9 332.9 664C335.9 664.1 339.2 666.2 341.9 668.5C344.6 670.8 346.7 674.2 349.1 677.5C351.5 680.8 353.9 684.7 356.3 688.3C358.7 691.9 360.8 695.2 363.5 699.1C366.2 703 368.5 708.6 372.4 711.7C376.3 714.9 382.3 716.4 386.8 718C391.3 719.6 394.9 720.2 399.4 721.5C403.9 722.8 409.9 724.4 413.8 726C417.7 727.6 419.8 729 422.8 731.4C425.8 733.8 428.8 736.8 431.8 740.4C434.8 744 437.7 748.8 440.7 753C443.7 757.2 446.7 761.1 449.7 765.6C452.7 770.1 455.7 775.5 458.7 780C461.7 784.5 464.7 788.3 467.7 792.5C470.7 796.7 474 801.2 476.7 805.1C479.4 809 482.7 814.1 483.9 815.9" stroke="#0000ff" stroke-width="6" fill="none" stroke-linejoin="round" stroke-linecap="round"/>
<path d="M64.8 667 65.5 651 69.5 622.5 75.8 619.3 80.6 641.5 85.3 654.2 91.7 663.7 99.6 666.9 105.9 646.3 112.3 643.1 120.2 657.4 128.1 663.7 134.4 682.7 137.6 644.7 142.4 651 148.7 663.7 153.4 676.4 158.2 638.4 164.5 641.5 170.9 654.2 174 663.7 177.2 622.5 180.4 616.2 186.7 628.8 193 625.7 197.8 606.7 202.5 590.8 208.9 603.5 215.2 608.3 221.5 622.5 226.3 589.3 231 598.8 234.2 614.6 240.6 638.4 245.3 597.2 250.1 611.4 254.8 657.4 259.6 622.5 265.9 649.4 270.6 682.7 275.4 663.7 279 692 284 668 288 708 292 680 297 718 301 698 306 729 311 706 316.7 733 321 712 326 716 333 706 340 720 345.5 672 350 690 352.7 672 357 700 359.9 711 365 715 370.6 715 376 733 381.4 720 386 712 390.4 698 394 730 397.6 726 404 735 410.2 757 414 735 417.4 728 422 748 428.2 762 433 766 437.2 780 442.5 756 446 772 449.7 781 455 785 460.5 797 464 786 467.7 782 472 800 476 806 483.9 816" stroke="#ff0000" stroke-width="6" fill="none" stroke-linejoin="round" stroke-linecap="butt" stroke-dasharray="14 4 3 4"/>
<path d="M66 634.2 68.8 641.4 71.6 622.3 74.4 622.4 77.2 622 80 644 82.8 642.7 85.6 655.9 88.4 657.2 91.2 662.4 94 664.5 96.8 665.8 99.6 660.8 102.4 663.1 105.2 648.2 108 645.8 110.8 644.1 113.6 647.7 116.4 648.2 119.2 656.4 122 658.2 124.8 661.1 127.6 663.8 130.4 676 133.2 669.5 136 677.4 138.8 647.1 141.6 652.3 144.4 653 147.2 664.1 150 664.2 152.8 674.3 155.6 642.5 158.4 654.6 161.2 639.9 164 643.3 166.8 643.7 169.6 655.5 172.4 654.9 175.2 661.2 178 618.7 180.8 619.8 183.6 620.2 186.4 626.7 189.2 627.6 192 625.3 194.8 611.5 197.6 614.3 200.4 594.2 203.2 594.9 206 595.2 208.8 603.2 211.6 605.6 214.4 610.1 217.2 610.3 220 620.4 222.8 599.2 225.6 607.9 228.4 591.9 231.2 608.5 234 605.4 236.8 631.3 239.6 627.4 242.4 635.4 245.2 601.3 248 612.7 250.8 611.6 253.6 655 256.4 630.7 259.2 641.1 262 625.3 264.8 655.8 267.6 648.5 270.4 680.6 273.2 667.1 276 684.6 278.8 673.3 281.6 688.7 284.4 671.8 287.2 704 290 682.1 292.8 701.2 295.6 692.9 298.4 715.4 301.2 701.2 304 726.7 306.8 716.8 309.6 721.8 312.4 709.1 315.2 730.8 318 716.9 320.8 722.9 323.6 714 326.4 714 329.2 710.2 332 708.9 334.8 708.2 337.6 717.3 340.4 698.7 343.2 709.8 346 675.4 348.8 687.1 351.6 675.4 354.4 696.4 357.2 689.4 360 711 362.8 713.2 365.6 714.3 368.4 715.5 371.2 722.9 374 720 376.8 730.9 379.6 721 382.4 720.9 385.2 709 388 710.8 390.8 701 393.6 726.7 396.4 728 399.2 729.6 402 730.8 404.8 744.4 407.6 742.5 410.4 754.3 413.2 734.4 416 735.4 418.8 730.5 421.6 750.6 424.4 749.7 427.2 760.8 430 762.5 432.8 771.6 435.6 768.8 438.4 777.7 441.2 758.2 444 770 446.8 766.8 449.6 780.5 452.4 783 455.2 788.8 458 788.7 460.8 794.7 463.6 786.1 466.4 784.9 469.2 785.3 472 801.1 474.8 802.8 477.6 809 480.4 810.4" stroke="#ff0000" stroke-width="4.5" fill="none" stroke-linejoin="round" stroke-linecap="butt" stroke-dasharray="10 3"/>
<path d="M65.6 890C68.2 890.5 76.6 890.9 81.3 893C86 895.1 89.6 898.8 93.8 902.5C98 906.2 102.1 911.9 106.3 915C110.5 918.1 114.6 921.6 118.8 921.3C123 921 127.1 917.6 131.3 913.4C135.5 909.2 139.1 901.8 143.8 896.3C148.5 890.8 154.7 882.4 159.4 880.6C164.1 878.8 167.2 882.4 171.9 885.3C176.6 888.2 182.8 895.2 187.5 897.8C192.2 900.4 194.8 902.3 200 901C205.2 899.7 213.6 891.6 218.8 890C224 888.4 227.1 889.5 231.3 891.6C235.5 893.7 239.6 898.3 243.8 902.5C248 906.7 252.1 913.7 256.3 916.6C260.5 919.5 264.6 920.5 268.8 919.7C273 918.9 276.6 914.2 281.3 911.9C286 909.5 291.7 905.6 296.9 905.6C302.1 905.6 307.3 909 312.5 911.9C317.7 914.8 322.9 920.2 328.1 922.8C333.3 925.4 338.7 926.1 343.8 927.5C348.9 928.9 353.8 930 359 931C364.2 932 369.7 932.3 375 933.8C380.3 935.3 385.4 936.9 390.6 940C395.8 943.1 401.1 949.9 406.3 952.5C411.5 955.1 416.7 954.8 421.9 955.6C427.1 956.4 432.3 955.6 437.5 957.2C442.7 958.8 447.9 962.1 453.1 965C458.3 967.9 463.6 972.3 468.8 974.4C474 976.5 481.8 977 484.4 977.5" stroke="#0000ff" stroke-width="6" fill="none" stroke-linejoin="round" stroke-linecap="round"/>
<path d="M64 902 65 927 72 920 78 924 86 910 93.8 912 101 925 109 915 117 905 125 912 133 904 140.6 902.5 148 910 156 902.5 164 895 172 902.5 180 906 187.5 899 195 905 203 902.5 210 896 218.8 893 226 900 234 899 242 908 250 906 258 912 265.6 909 273 916 281 912 289 918 297 915 305 921 312.5 918 320 925 328 924 336 940 343.8 934 351 930 359 934 367 944 375 940 383 942 390.6 946 398 955 406 952.5 414 960 422 959 430 964 437.5 965 445 970 453 971 461 978 469 977.5 477 980 484.4 979" stroke="#ff0000" stroke-width="6" fill="none" stroke-linejoin="round" stroke-linecap="butt" stroke-dasharray="14 4 3 4"/>
<path d="M66 924.7 69.4 924.1 72.3 917.8 75.8 924.6 78.8 921.3 81.7 919.4 85.3 909 88.8 912.7 91.2 908.6 94.8 915.6 97 915.7 100 925.9 103.2 920.1 106.4 920.2 108.5 914.3 112.3 913.5 115 904.7 118 907.3 121.6 906.8 125.4 914 127.7 907 131.2 908.6 133.9 901.7 137.3 904.7 140.9 900.2 143.1 907.3 145.9 906.3 149 912 152.1 904.7 155.1 905.9 158.9 897.3 161.1 900.6 164.3 893.9 166.6 898.8 169.9 899.1 173.5 904.5 176.5 902.5 178.7 906.6 182.4 900.8 184.8 904.1 188.6 897.1 192.3 904.7 195.7 902.7 199.5 906.1 203.1 899.6 205.9 902.3 208.2 896.1 212 897.3 215.3 892 217.9 895.6 221.6 894 224.3 899.9 226.8 897.2 230.1 902.4 233.4 896.1 235.9 902.7 238.4 902.1 242.3 909.5 245.2 905.9 247.4 908.8 250.6 904.3 254.3 912 258.2 909.7 260.7 912.4 264.2 908.1 266.3 912.1 268.6 909.6 271.1 916.2 273.2 914 275.9 916.2 278.3 911.1 281.6 914 283.8 912.4 287.1 918.3 290.4 916.1 293.8 917.7 296.3 912.8 299.2 919 301.8 916.2 304.5 922.7 307.4 917.2 310.8 920.9 314.5 917.5 317.9 925.1 321 923.3 324.8 926.8 328.3 922.4 330.5 930.4 334.2 933.9 337.9 941.3 340.4 933.6 343.6 936.7 346.7 930.8 349.6 932.8 352.3 928.8 355.2 933.8 357.5 930.6 360.3 937.4 363.8 937.5 366.7 945.3 370.2 940.8 373.1 942.8 377 938.9 380.2 943.4 382.4 940.3 386.1 946.2 388.6 943.4 392.4 950.4 395.7 949.4 398.3 957 402.1 952.2 404.6 955.7 408.2 952.5 410.6 959.5 413.2 956.7 415.8 961.3 419.1 957.5 421.9 961 424.8 958.7 428.1 964.2 431.4 962.1 435 966.4 438.3 964 441.6 970.2 444.7 967.8 448.5 972.3 450.8 968.9 453 973.8 456.6 972.6 459.8 978.5 463.4 975.9 465.6 980.1 467.9 974.8 471.7 980.6 474.2 976.5 476.4 981.2 479 978.4 482.7 981.6" stroke="#ff0000" stroke-width="4.5" fill="none" stroke-linejoin="round" stroke-linecap="butt" stroke-dasharray="9 4"/>
<path d="M618.2 687.8C620.2 685.4 626.4 678.9 630.5 673.4C634.6 667.9 639.1 659.3 642.9 654.9C646.7 650.5 649.7 648.4 653.1 646.7C656.5 645 660 643.7 663.4 644.7C666.8 645.7 670.6 649.1 673.7 652.9C676.8 656.6 679.2 662.1 681.9 667.2C684.6 672.3 687 678.6 690.1 683.7C693.2 688.9 697 695 700.4 698.1C703.8 701.2 706.9 701.9 710.7 702.2C714.5 702.5 718.9 700.3 723 700.1C727.1 699.9 731.5 699.7 735.3 701.1C739.1 702.5 742.2 704.7 745.6 708.3C749 711.9 752.5 717.9 755.9 722.7C759.3 727.5 762.7 733 766.1 737.1C769.5 741.2 772.6 745 776.4 747.4C780.2 749.8 784.6 751.2 788.7 751.5C792.8 751.8 796.5 749.9 801 749.4C805.5 748.9 810.5 748.2 815.4 748.4C820.3 748.6 825.2 748.7 830.3 750.8C835.3 752.9 840.3 758.6 845.7 761C851.1 763.4 857.7 765 862.8 765.3C867.9 765.6 871.6 763.3 876.5 762.7C881.4 762.1 887 761.3 891.9 761.9C896.8 762.5 901 764.4 905.6 766.2C910.2 768.1 914.7 771.1 919.3 773C923.9 774.9 928.1 777 933 777.3C937.9 777.6 943 775.4 948.4 774.7C953.8 774 959.8 772.9 965.5 773C971.2 773.1 977 774.5 982.7 775.6C988.4 776.8 994.4 778.3 999.8 779.9C1005.2 781.5 1010.9 784.1 1015.2 785C1019.5 785.9 1021.8 785.1 1025.5 785C1029.2 784.9 1035.5 784.2 1037.5 784.1" stroke="#0000ff" stroke-width="6" fill="none" stroke-linejoin="round" stroke-linecap="round"/>
<path d="M618.2 704.2C620.2 704.6 625.7 705.6 630.5 706.3C635.3 707 641.9 706.9 647 708.3C652.1 709.7 657.3 711.8 661.4 714.5C665.5 717.2 667.8 721.4 671.6 724.8C675.4 728.2 679.9 733 684 735C688.1 737 692.2 736.4 696.3 737.1C700.4 737.8 703.8 737.4 708.6 739.1C713.4 740.8 719.5 744.6 725 747.4C730.5 750.1 736 753.5 741.5 755.6C747 757.7 752.4 758.5 757.9 759.7C763.4 760.9 768.8 761.8 774.3 762.8C779.8 763.8 786 764.7 790.8 765.9C795.6 767.1 799 768 803.1 770C807.2 772 811.3 775.8 815.4 778.2C819.5 780.6 824.1 783.4 827.7 784.3C831.3 785.1 831.2 783.6 837.1 783.3C843 783 855.7 781.3 862.8 782.4C869.9 783.5 874.2 787.4 879.9 790.1C885.6 792.8 891.1 795.8 897.1 798.7C903.1 801.6 909.4 805.6 915.9 807.3C922.4 809 930.1 807.6 936.4 809C942.7 810.4 947.9 813.7 953.6 815.8C959.3 817.9 964.7 820.8 970.7 821.8C976.7 822.8 984.1 823.4 989.5 821.8C994.9 820.2 998.1 814.7 1003.2 812.4C1008.3 810.1 1014.6 807.8 1020.3 808.1C1026 808.4 1034.6 813.1 1037.5 814.1" stroke="#0000ff" stroke-width="6" fill="none" stroke-linejoin="round" stroke-linecap="round"/>
<path d="M616.2 694C618.6 692.3 625.7 686.8 630.5 683.7C635.3 680.6 640.1 677.2 644.9 675.5C649.7 673.8 654.2 674.8 659.3 673.4C664.4 672 670.2 668.9 675.7 667.2C681.2 665.5 686.7 664.5 692.2 663.1C697.7 661.7 703.8 659.3 708.6 659C713.4 658.7 716.8 660.4 720.9 661.1C725 661.8 729.2 660.4 733.3 663.1C737.4 665.8 741.5 672.7 745.6 677.5C749.7 682.3 754.5 687.1 757.9 691.9C761.3 696.7 763.4 701.5 766.1 706.3C768.8 711.1 771.2 716.6 774.3 720.7C777.4 724.8 781.2 727.8 784.6 730.9C788 734 791.1 736.7 794.9 739.1C798.7 741.5 803 742.8 807.2 745.3C811.4 747.8 815.6 752.4 820 754.2C824.4 756 829.1 756.2 833.7 755.9C838.3 755.6 842.8 753.8 847.4 752.5C852 751.2 856.5 749.4 861.1 748.2C865.7 747.1 869.7 745.2 874.8 745.6C879.9 746 886.2 749.6 891.9 750.8C897.6 751.9 903.3 751.4 909 752.5C914.7 753.6 920.5 756.9 926.2 757.6C931.9 758.3 937.6 756.6 943.3 756.7C949 756.9 954.7 757.8 960.4 758.5C966.1 759.2 972.4 760 977.5 761C982.6 762 986.6 764.2 991.2 764.5C995.8 764.8 1000.6 762.3 1004.9 762.7C1009.2 763.1 1011.5 767 1016.9 767C1022.3 767 1034.1 763.4 1037.5 762.7" stroke="#ff0000" stroke-width="6.5" fill="none" stroke-linejoin="round" stroke-linecap="butt" stroke-dasharray="14 6"/>
<path d="M616.2 698.1C617.2 701.5 619.2 713.5 622.3 718.6C625.4 723.7 630.6 726.9 634.7 728.9C638.8 730.9 643.2 731.6 647 730.9C650.8 730.2 653.8 727.9 657.2 724.8C660.6 721.7 664.1 714.8 667.5 712.4C670.9 710 674.4 709.7 677.8 710.4C681.2 711.1 684.3 712.4 688.1 716.5C691.9 720.6 696.3 728.5 700.4 735C704.5 741.5 708.9 748.4 712.7 755.6C716.5 762.8 719.6 770.7 723 778.2C726.4 785.7 729.9 794.3 733.3 800.8C736.7 807.3 739.7 812.8 743.5 817.2C747.3 821.7 751.4 825.5 755.9 827.5C760.4 829.5 765.8 829.9 770.2 829.5C774.7 829.1 778.5 827.4 782.6 825.4C786.7 823.4 790.8 820.3 794.9 817.2C799 814.1 803 810.3 807.2 806.9C811.4 803.5 815.6 800.4 820 797C824.4 793.6 829.4 788.4 833.7 786.7C838 785 841.7 785.3 845.7 786.7C849.7 788.1 853.4 791.3 857.7 795.3C862 799.3 866.3 806.7 871.4 810.7C876.5 814.7 882.8 818.2 888.5 819.2C894.2 820.2 899.9 817.6 905.6 816.7C911.3 815.9 917 814.2 922.7 814.1C928.4 814 934.2 814.6 939.9 815.8C945.6 816.9 951.3 819.3 957 821C962.7 822.7 968.4 824.8 974.1 826.1C979.8 827.4 986.1 829.3 991.2 828.7C996.3 828.1 1000 825.3 1004.9 822.7C1009.8 820.1 1014.9 814.3 1020.3 813.3C1025.7 812.3 1034.6 816.1 1037.5 816.7" stroke="#ff0000" stroke-width="6.5" fill="none" stroke-linejoin="round" stroke-linecap="butt" stroke-dasharray="14 6"/>
<path d="M1170.9 777.8 1175 779 1180 781 1183 786 1185.6 789 1188 783 1192 781 1200 783 1204 790 1207.6 795 1210 786 1215 785 1220 790 1224 800 1228 791 1232 793 1236 801 1240 792 1245 789 1255 791 1260 795 1264.9 801 1268 792 1275 791 1282.5 798 1286 793 1292 793 1300 796 1304.5 801 1308 795 1320 795 1335 796" stroke="#0000ff" stroke-width="6" fill="none" stroke-linejoin="round" stroke-linecap="round"/>
<path d="M1335 796C1339.4 796.2 1352.3 797 1361.5 797C1370.7 797 1383.1 796.2 1390 796.3C1396.9 796.4 1398.9 797.1 1403.1 797.6C1407.3 798.1 1411.5 798.9 1415 799C1418.5 799.1 1420.5 799.4 1424 798.5C1427.5 797.6 1431.7 795.2 1435.9 793.7C1440.1 792.2 1444.1 791.7 1449.1 789.7C1454.1 787.7 1460.6 784 1466.1 781.9C1471.6 779.8 1476 778.8 1481.9 777C1487.8 775.2 1495 773.6 1501.6 771.4C1508.1 769.2 1514.7 766.6 1521.2 764C1527.8 761.4 1535.4 758.8 1540.9 755.6C1546.4 752.5 1549.6 748.6 1554 745.1C1558.4 741.6 1562.8 738.1 1567.2 734.6C1571.6 731.1 1576.6 727.4 1580.3 724.1C1584 720.8 1588 716.4 1589.5 714.9" stroke="#0000ff" stroke-width="6" fill="none" stroke-linejoin="round" stroke-linecap="round"/>
<path d="M1170.9 777C1174.1 777.7 1183.5 779.8 1190 781C1196.5 782.2 1201.9 783.1 1210 784C1218.1 784.9 1228.4 785.6 1238.4 786.6C1248.4 787.6 1257.8 788.6 1270 790C1282.2 791.4 1300.1 793.5 1311.8 795C1323.5 796.5 1330.3 798 1340 799C1349.7 800 1361.7 800.4 1370 801C1378.3 801.6 1383.4 802.5 1390 802.9C1396.6 803.3 1403.6 803.6 1409.7 803.5C1415.8 803.4 1420.9 803.9 1426.8 802.5C1432.7 801.1 1439.2 797.4 1445.1 795C1451 792.6 1456.1 791 1462.2 788.4C1468.3 785.8 1476.4 781.9 1481.9 779.3C1487.4 776.7 1490.6 775.3 1495 773C1499.4 770.7 1502 769 1508.1 765.5C1514.2 762 1524.6 756.2 1531.8 751.7C1539 747.2 1545.5 742.8 1551.4 738.6C1557.3 734.5 1562.4 730.8 1567.2 726.8C1572 722.8 1576.6 718 1580.3 714.9C1584 711.8 1588 709.5 1589.5 708.4" stroke="#ff0000" stroke-width="6.5" fill="none" stroke-linejoin="round" stroke-linecap="butt" stroke-dasharray="14 5 3 5"/>
<path d="M1170.4 940.8 1175 938 1180 939 1184 946 1187 947 1190 936 1192.2 932.6 1205 936 1212 938 1219.4 941 1225 935 1230 934 1246.6 935.3 1255 937 1262 938 1270 939 1279.2 943 1283 935 1290 934 1300.9 934 1330 936 1340 937 1355.3 936.5 1380 934.5" stroke="#0000ff" stroke-width="6" fill="none" stroke-linejoin="round" stroke-linecap="round"/>
<path d="M1380 934.5C1385 934.2 1400.2 933.4 1409.7 932.6C1419.2 931.8 1427.8 931 1436.9 929.9C1446 928.8 1452.8 927.1 1464.1 925.8C1475.4 924.5 1491.3 922.8 1504.9 922.3C1518.5 921.8 1531.5 922.3 1545.6 923.1C1559.6 923.9 1581.9 926.5 1589.2 927.2" stroke="#0000ff" stroke-width="6" fill="none" stroke-linejoin="round" stroke-linecap="round"/>
<path d="M1170.4 932.6 1190 934 1219.4 934 1250 933 1273.8 934 1300 933 1328.1 932.6 1355 934 1382.5 934 1410 934 1436.9 934.5 1465 935 1491.3 935 1520 935.5 1545.6 935.3 1570 934.5 1589.2 934" stroke="#ff0000" stroke-width="6.5" fill="none" stroke-linejoin="round" stroke-linecap="butt" stroke-dasharray="14 5 3 5"/>
<path d="M65.6 527.8h5M484.3 527.8h-5M65.6 441.1h5M484.3 441.1h-5M65.6 354.4h5M484.3 354.4h-5M65.6 267.7h5M484.3 267.7h-5M65.6 181h5M484.3 181h-5M65.6 94.3h5M484.3 94.3h-5M65.6 527.8v-5M65.6 51v5M328.5 527.8v-5M328.5 51v5" stroke="#262626" stroke-width="1.5" fill="none"/>
<rect x="65.6" y="51" width="418.7" height="476.8" stroke="#262626" stroke-width="2" fill="none" opacity="0.85"/>
<text x="50.6" y="537.4" text-anchor="end" class="tk">0</text>
<text x="50.6" y="450.7" text-anchor="end" class="tk">2</text>
<text x="50.6" y="364" text-anchor="end" class="tk">4</text>
<text x="50.6" y="277.3" text-anchor="end" class="tk">6</text>
<text x="50.6" y="190.6" text-anchor="end" class="tk">8</text>
<text x="50.6" y="103.9" text-anchor="end" class="tk">10</text>
<path d="M617.6 527.8h5M1039.3 527.8h-5M617.6 357.5h5M1039.3 357.5h-5M617.6 187.2h5M1039.3 187.2h-5M617.6 527.8v-5M617.6 51v5M880.5 527.8v-5M880.5 51v5" stroke="#262626" stroke-width="1.5" fill="none"/>
<rect x="617.6" y="51" width="421.7" height="476.8" stroke="#262626" stroke-width="2" fill="none" opacity="0.85"/>
<text x="602.6" y="537.4" text-anchor="end" class="tk">0</text>
<text x="602.6" y="367.1" text-anchor="end" class="tk">0.5</text>
<text x="602.6" y="196.8" text-anchor="end" class="tk">1</text>
<path d="M1170.7 527.8h5M1590.9 527.8h-5M1170.7 432.4h5M1590.9 432.4h-5M1170.7 337.1h5M1590.9 337.1h-5M1170.7 241.7h5M1590.9 241.7h-5M1170.7 146.4h5M1590.9 146.4h-5M1170.7 51h5M1590.9 51h-5M1170.7 527.8v-5M1170.7 51v5M1433.6 527.8v-5M1433.6 51v5" stroke="#262626" stroke-width="1.5" fill="none"/>
<rect x="1170.7" y="51" width="420.2" height="476.8" stroke="#262626" stroke-width="2" fill="none" opacity="0.85"/>
<text x="1155.7" y="537.4" text-anchor="end" class="tk">0.8</text>
<text x="1155.7" y="442" text-anchor="end" class="tk">1</text>
<text x="1155.7" y="346.7" text-anchor="end" class="tk">1.2</text>
<text x="1155.7" y="251.3" text-anchor="end" class="tk">1.4</text>
<text x="1155.7" y="156" text-anchor="end" class="tk">1.6</text>
<text x="1155.7" y="60.6" text-anchor="end" class="tk">1.8</text>
<path d="M65.6 1053.6h5M484.3 1053.6h-5M65.6 934.4h5M484.3 934.4h-5M65.6 815.1h5M484.3 815.1h-5M65.6 695.9h5M484.3 695.9h-5M65.6 576.7h5M484.3 576.7h-5M65.6 1053.6v-5M65.6 576.7v5M328.5 1053.6v-5M328.5 576.7v5" stroke="#262626" stroke-width="1.5" fill="none"/>
<rect x="65.6" y="576.7" width="418.7" height="476.9" stroke="#262626" stroke-width="2" fill="none" opacity="0.85"/>
<text x="50.6" y="1063.2" text-anchor="end" class="tk">0</text>
<text x="50.6" y="944" text-anchor="end" class="tk">0.5</text>
<text x="50.6" y="824.8" text-anchor="end" class="tk">1</text>
<text x="50.6" y="705.5" text-anchor="end" class="tk">1.5</text>
<text x="50.6" y="586.3" text-anchor="end" class="tk">2</text>
<text x="65.6" y="1102.5" text-anchor="middle" class="tk">0</text>
<text x="328.5" y="1102.5" text-anchor="middle" class="tk">0.5</text>
<path d="M617.6 1053.6h5M1039.3 1053.6h-5M617.6 894.6h5M1039.3 894.6h-5M617.6 735.7h5M1039.3 735.7h-5M617.6 576.7h5M1039.3 576.7h-5M617.6 1053.6v-5M617.6 576.7v5M880.5 1053.6v-5M880.5 576.7v5" stroke="#262626" stroke-width="1.5" fill="none"/>
<rect x="617.6" y="576.7" width="421.7" height="476.9" stroke="#262626" stroke-width="2" fill="none" opacity="0.85"/>
<text x="602.6" y="1063.2" text-anchor="end" class="tk">0</text>
<text x="602.6" y="904.2" text-anchor="end" class="tk">5</text>
<text x="602.6" y="745.3" text-anchor="end" class="tk">10</text>
<text x="602.6" y="586.3" text-anchor="end" class="tk">15</text>
<text x="617.6" y="1102.5" text-anchor="middle" class="tk">0</text>
<text x="880.5" y="1102.5" text-anchor="middle" class="tk">0.5</text>
<path d="M1170.7 1053.6h5M1590.9 1053.6h-5M1170.7 934.4h5M1590.9 934.4h-5M1170.7 815.1h5M1590.9 815.1h-5M1170.7 695.9h5M1590.9 695.9h-5M1170.7 576.7h5M1590.9 576.7h-5M1170.7 1053.6v-5M1170.7 576.7v5M1433.6 1053.6v-5M1433.6 576.7v5" stroke="#262626" stroke-width="1.5" fill="none"/>
<rect x="1170.7" y="576.7" width="420.2" height="476.9" stroke="#262626" stroke-width="2" fill="none" opacity="0.85"/>
<text x="1155.7" y="1063.2" text-anchor="end" class="tk">0</text>
<text x="1155.7" y="944" text-anchor="end" class="tk">1</text>
<text x="1155.7" y="824.8" text-anchor="end" class="tk">2</text>
<text x="1155.7" y="705.5" text-anchor="end" class="tk">3</text>
<text x="1155.7" y="586.3" text-anchor="end" class="tk">4</text>
<text x="1170.7" y="1102.5" text-anchor="middle" class="tk">0</text>
<text x="1433.6" y="1102.5" text-anchor="middle" class="tk">0.5</text>
<text x="79.8" y="32.5" font-size="41" fill="#000" textLength="51.4" lengthAdjust="spacingAndGlyphs" xml:space="preserve">(a)</text>
<text x="630.0" y="32.5" font-size="41" fill="#000" textLength="54.0" lengthAdjust="spacingAndGlyphs" xml:space="preserve">(b)</text>
<text x="1182.1" y="32.5" font-size="41" fill="#000" textLength="50.5" lengthAdjust="spacingAndGlyphs" xml:space="preserve">(c)</text>
<text x="76.3" y="563.5" font-size="41" fill="#000" textLength="55.9" lengthAdjust="spacingAndGlyphs" xml:space="preserve">(d)</text>
<text x="624.9" y="563.5" font-size="41" fill="#000" textLength="51.8" lengthAdjust="spacingAndGlyphs" xml:space="preserve">(e)</text>
<text x="1180.5" y="563.5" font-size="41" fill="#000" textLength="46.4" lengthAdjust="spacingAndGlyphs" xml:space="preserve">(f)</text>
<text x="219.4" y="30.2" font-size="44" fill="#000" textLength="111.3" lengthAdjust="spacingAndGlyphs" xml:space="preserve">40239</text>
<text x="202.2" y="103.3" font-size="41" fill="#000" font-style="italic" xml:space="preserve">I</text>
<text x="216.8" y="108.5" font-size="29" fill="#000" font-style="italic" xml:space="preserve">p</text>
<text x="245.3" y="107.1" font-size="49.0" fill="#000" textLength="9.5" lengthAdjust="spacingAndGlyphs" xml:space="preserve">[</text>
<text x="254.6" y="103.6" font-size="41" fill="#000" textLength="112.7" lengthAdjust="spacingAndGlyphs" xml:space="preserve">100kA</text>
<text x="369.2" y="107.1" font-size="49.0" fill="#000" textLength="7.4" lengthAdjust="spacingAndGlyphs" xml:space="preserve">]</text>
<text x="72.0" y="319.9" font-size="41" fill="#000" font-style="italic" xml:space="preserve">P</text>
<text x="95.9" y="326.4" font-size="29" fill="#000" font-style="italic" textLength="46.3" lengthAdjust="spacingAndGlyphs" xml:space="preserve">aux</text>
<text x="161.6" y="323.1" font-size="49.0" fill="#000" textLength="9.0" lengthAdjust="spacingAndGlyphs" xml:space="preserve">[</text>
<text x="170.2" y="319.9" font-size="41" fill="#000" textLength="76.3" lengthAdjust="spacingAndGlyphs" xml:space="preserve">MW</text>
<text x="248.2" y="323.1" font-size="49.0" fill="#000" textLength="7.7" lengthAdjust="spacingAndGlyphs" xml:space="preserve">]</text>
<text x="615.0" y="93.8" font-size="41" fill="#000" textLength="64.1" lengthAdjust="spacingAndGlyphs" xml:space="preserve">exp</text>
<text x="692.8" y="93.8" font-size="41" fill="#000" textLength="125.5" lengthAdjust="spacingAndGlyphs" xml:space="preserve">(solid);</text>
<text x="774.7" y="162.8" font-size="41" fill="#0000ff" font-style="italic" textLength="28.5" lengthAdjust="spacingAndGlyphs" xml:space="preserve">n</text>
<text x="799.7" y="168.0" font-size="29" fill="#0000ff" font-style="italic" textLength="21.2" lengthAdjust="spacingAndGlyphs" xml:space="preserve">el</text>
<text x="840.0" y="165.3" font-size="47.9" fill="#0000ff" textLength="8.9" lengthAdjust="spacingAndGlyphs" xml:space="preserve">[</text>
<text x="848.2" y="162.8" font-size="41" fill="#0000ff" textLength="41.9" lengthAdjust="spacingAndGlyphs" xml:space="preserve">10</text>
<text x="889.6" y="144.8" font-size="29" fill="#0000ff" textLength="27.6" lengthAdjust="spacingAndGlyphs" xml:space="preserve">20</text>
<text x="919.2" y="162.8" font-size="41" fill="#0000ff" textLength="33.7" lengthAdjust="spacingAndGlyphs" xml:space="preserve">m</text>
<text x="951.9" y="144.8" font-size="29" fill="#0000ff" textLength="37.2" lengthAdjust="spacingAndGlyphs" xml:space="preserve">−3</text>
<text x="991.0" y="165.3" font-size="47.9" fill="#0000ff" textLength="8.9" lengthAdjust="spacingAndGlyphs" xml:space="preserve">]</text>
<text x="617.6" y="298.8" font-size="41" fill="#008000" font-style="italic" textLength="37.9" lengthAdjust="spacingAndGlyphs" xml:space="preserve">W</text>
<text x="655.8" y="304.4" font-size="29" fill="#008000" font-style="italic" textLength="26.7" lengthAdjust="spacingAndGlyphs" xml:space="preserve">th</text>
<text x="700.5" y="301.8" font-size="48.8" fill="#008000" textLength="8.3" lengthAdjust="spacingAndGlyphs" xml:space="preserve">[</text>
<text x="709.4" y="298.8" font-size="41" fill="#008000" textLength="55.2" lengthAdjust="spacingAndGlyphs" xml:space="preserve">MJ</text>
<text x="766.0" y="301.8" font-size="48.8" fill="#008000" textLength="8.6" lengthAdjust="spacingAndGlyphs" xml:space="preserve">]</text>
<text x="620.1" y="450.0" font-size="41" fill="#000" font-style="italic" textLength="30.0" lengthAdjust="spacingAndGlyphs" xml:space="preserve">H</text>
<text x="650.1" y="457.0" font-size="29" fill="#000" font-style="italic" xml:space="preserve">e</text>
<text x="620.1" y="501.6" font-size="41" fill="#ff00ff" font-style="italic" textLength="30.0" lengthAdjust="spacingAndGlyphs" xml:space="preserve">H</text>
<text x="650.1" y="507.8" font-size="29" fill="#ff00ff" font-style="italic" xml:space="preserve">e</text>
<text x="675.8" y="507.8" font-size="29" fill="#ff00ff" font-style="italic" textLength="40.1" lengthAdjust="spacingAndGlyphs" xml:space="preserve">ref</text>
<text x="737.6" y="501.6" font-size="41" fill="#ff00ff" textLength="142.1" lengthAdjust="spacingAndGlyphs" xml:space="preserve">(dotted)</text>
<text x="1172.7" y="101.5" font-size="42" fill="#000" font-style="italic" xml:space="preserve">ℓ</text>
<text x="1190.5" y="108.5" font-size="29" fill="#000" font-style="italic" xml:space="preserve">i</text>
<text x="1202.3" y="108.8" font-size="29" fill="#000" xml:space="preserve">3</text>
<text x="1169.9" y="156.2" font-size="41" fill="#0000ff" textLength="74.9" lengthAdjust="spacingAndGlyphs" xml:space="preserve">IDE</text>
<text x="1254.4" y="156.2" font-size="41" fill="#0000ff" textLength="64.5" lengthAdjust="spacingAndGlyphs" xml:space="preserve">exp</text>
<text x="1333.2" y="156.2" font-size="41" fill="#0000ff" textLength="111.0" lengthAdjust="spacingAndGlyphs" xml:space="preserve">(solid)</text>
<text x="1170.1" y="202.4" font-size="41" fill="#ff0000" textLength="175.7" lengthAdjust="spacingAndGlyphs" xml:space="preserve">RAPTOR</text>
<text x="1361.6" y="202.4" font-size="41" fill="#ff0000" textLength="237.7" lengthAdjust="spacingAndGlyphs" xml:space="preserve">(dash-dotted)</text>
<text x="67.1" y="627.5" font-size="41" fill="#000" font-style="italic" textLength="30.5" lengthAdjust="spacingAndGlyphs" xml:space="preserve">T</text>
<text x="96.0" y="634.2" font-size="29" fill="#000" font-style="italic" xml:space="preserve">e</text>
<text x="71.3" y="727.7" font-size="41" fill="#000" font-style="italic" textLength="19.2" lengthAdjust="spacingAndGlyphs" xml:space="preserve">ρ</text>
<text x="100.9" y="732.7" font-size="41" fill="#000" textLength="34.1" lengthAdjust="spacingAndGlyphs" xml:space="preserve">=</text>
<text x="143.2" y="727.7" font-size="41" fill="#000" textLength="73.7" lengthAdjust="spacingAndGlyphs" xml:space="preserve">0.25</text>
<text x="64.9" y="775.5" font-size="41" fill="#0000ff" textLength="73.4" lengthAdjust="spacingAndGlyphs" xml:space="preserve">IDA</text>
<text x="152.7" y="775.5" font-size="41" fill="#0000ff" textLength="62.9" lengthAdjust="spacingAndGlyphs" xml:space="preserve">exp</text>
<text x="230.4" y="775.5" font-size="41" fill="#0000ff" textLength="109.2" lengthAdjust="spacingAndGlyphs" xml:space="preserve">(solid)</text>
<text x="65.0" y="823.3" font-size="41" fill="#ff0000" textLength="176.3" lengthAdjust="spacingAndGlyphs" xml:space="preserve">RAPTOR</text>
<text x="257.6" y="823.3" font-size="41" fill="#ff0000" textLength="53.3" lengthAdjust="spacingAndGlyphs" xml:space="preserve">(-.)</text>
<text x="71.3" y="966.6" font-size="41" fill="#000" font-style="italic" textLength="19.2" lengthAdjust="spacingAndGlyphs" xml:space="preserve">ρ</text>
<text x="100.9" y="971.6" font-size="41" fill="#000" textLength="34.1" lengthAdjust="spacingAndGlyphs" xml:space="preserve">=</text>
<text x="143.2" y="966.6" font-size="41" fill="#000" textLength="73.7" lengthAdjust="spacingAndGlyphs" xml:space="preserve">0.80</text>
<text x="621.7" y="626.6" font-size="41" fill="#000" font-style="italic" textLength="27.7" lengthAdjust="spacingAndGlyphs" xml:space="preserve">n</text>
<text x="649.9" y="633.0" font-size="29" fill="#000" font-style="italic" textLength="14.1" lengthAdjust="spacingAndGlyphs" xml:space="preserve">e</text>
<text x="776.8" y="648.8" font-size="41" fill="#000" font-style="italic" textLength="19.2" lengthAdjust="spacingAndGlyphs" xml:space="preserve">ρ</text>
<text x="806.4" y="653.8" font-size="41" fill="#000" textLength="34.1" lengthAdjust="spacingAndGlyphs" xml:space="preserve">=</text>
<text x="848.7" y="648.8" font-size="41" fill="#000" textLength="73.7" lengthAdjust="spacingAndGlyphs" xml:space="preserve">0.25</text>
<text x="672.2" y="872.0" font-size="41" fill="#000" font-style="italic" textLength="19.2" lengthAdjust="spacingAndGlyphs" xml:space="preserve">ρ</text>
<text x="701.8" y="877.0" font-size="41" fill="#000" textLength="34.1" lengthAdjust="spacingAndGlyphs" xml:space="preserve">=</text>
<text x="744.1" y="872.0" font-size="41" fill="#000" textLength="73.7" lengthAdjust="spacingAndGlyphs" xml:space="preserve">0.80</text>
<text x="1173.0" y="624.5" font-size="41" fill="#000" font-style="italic" textLength="22.6" lengthAdjust="spacingAndGlyphs" xml:space="preserve">q</text>
<text x="1169.9" y="703.0" font-size="41" fill="#0000ff" textLength="74.9" lengthAdjust="spacingAndGlyphs" xml:space="preserve">IDE</text>
<text x="1254.4" y="703.0" font-size="41" fill="#0000ff" textLength="64.5" lengthAdjust="spacingAndGlyphs" xml:space="preserve">exp</text>
<text x="1333.2" y="703.0" font-size="41" fill="#0000ff" textLength="110.7" lengthAdjust="spacingAndGlyphs" xml:space="preserve">(solid)</text>
<text x="1170.1" y="751.2" font-size="41" fill="#ff0000" textLength="176.7" lengthAdjust="spacingAndGlyphs" xml:space="preserve">RAPTOR</text>
<text x="1363.9" y="751.2" font-size="41" fill="#ff0000" textLength="53.5" lengthAdjust="spacingAndGlyphs" xml:space="preserve">(-.)</text>
<text x="1223.7" y="849.8" font-size="41" fill="#000" font-style="italic" textLength="19.2" lengthAdjust="spacingAndGlyphs" xml:space="preserve">ρ</text>
<text x="1253.3" y="854.8" font-size="41" fill="#000" textLength="34.1" lengthAdjust="spacingAndGlyphs" xml:space="preserve">=</text>
<text x="1295.6" y="849.8" font-size="41" fill="#000" textLength="73.7" lengthAdjust="spacingAndGlyphs" xml:space="preserve">0.80</text>
<text x="1223.7" y="978.5" font-size="41" fill="#000" font-style="italic" textLength="19.2" lengthAdjust="spacingAndGlyphs" xml:space="preserve">ρ</text>
<text x="1253.3" y="983.5" font-size="41" fill="#000" textLength="34.1" lengthAdjust="spacingAndGlyphs" xml:space="preserve">=</text>
<text x="1295.6" y="978.5" font-size="41" fill="#000" textLength="73.7" lengthAdjust="spacingAndGlyphs" xml:space="preserve">0.25</text>
<text x="237.3" y="1157.0" font-size="44" fill="#262626" textLength="14.7" lengthAdjust="spacingAndGlyphs" xml:space="preserve">t</text>
<text x="272.0" y="1161.2" font-size="54.5" fill="#262626" textLength="8.9" lengthAdjust="spacingAndGlyphs" xml:space="preserve">[</text>
<text x="281.2" y="1157.0" font-size="44" fill="#262626" textLength="18.8" lengthAdjust="spacingAndGlyphs" xml:space="preserve">s</text>
<text x="298.3" y="1161.2" font-size="54.5" fill="#262626" textLength="9.1" lengthAdjust="spacingAndGlyphs" xml:space="preserve">]</text>
<text x="790.9" y="1157.0" font-size="44" fill="#262626" textLength="14.7" lengthAdjust="spacingAndGlyphs" xml:space="preserve">t</text>
<text x="825.5" y="1161.2" font-size="54.5" fill="#262626" textLength="8.9" lengthAdjust="spacingAndGlyphs" xml:space="preserve">[</text>
<text x="834.7" y="1157.0" font-size="44" fill="#262626" textLength="18.8" lengthAdjust="spacingAndGlyphs" xml:space="preserve">s</text>
<text x="851.9" y="1161.2" font-size="54.5" fill="#262626" textLength="9.1" lengthAdjust="spacingAndGlyphs" xml:space="preserve">]</text>
<text x="1343.2" y="1157.0" font-size="44" fill="#262626" textLength="14.7" lengthAdjust="spacingAndGlyphs" xml:space="preserve">t</text>
<text x="1377.8" y="1161.2" font-size="54.5" fill="#262626" textLength="8.9" lengthAdjust="spacingAndGlyphs" xml:space="preserve">[</text>
<text x="1387.1" y="1157.0" font-size="44" fill="#262626" textLength="18.8" lengthAdjust="spacingAndGlyphs" xml:space="preserve">s</text>
<text x="1404.2" y="1161.2" font-size="54.5" fill="#262626" textLength="9.1" lengthAdjust="spacingAndGlyphs" xml:space="preserve">]</text>
</svg>
</body></html>
